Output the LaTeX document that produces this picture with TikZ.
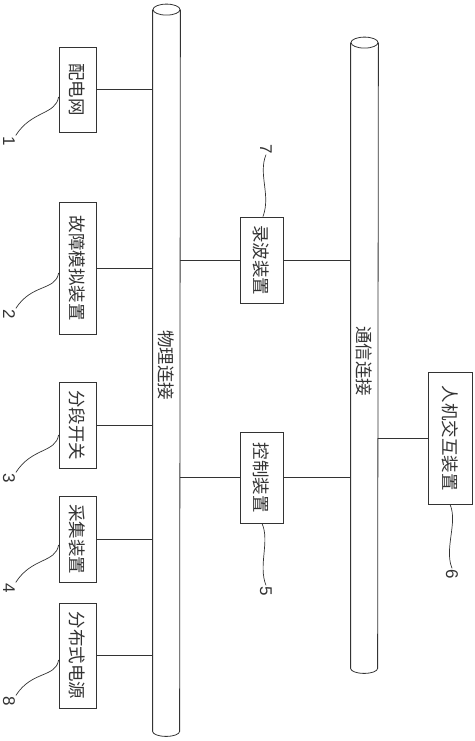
\documentclass[tikz,border=0pt]{standalone}
\usepackage{fontspec}
\usepackage{graphicx}
\usetikzlibrary{calc}
\newfontfamily\cjk{Noto Sans CJK SC}
\newfontfamily\numfont{Liberation Sans}
\definecolor{inkgray}{HTML}{333333}

\begin{document}
\begin{tikzpicture}[x=1pt,y=-1pt,line width=0.8pt,color=inkgray,
  unit/.style={draw,minimum width=37pt,minimum height=#1,inner sep=0pt,font=\cjk\fontsize{17.5}{20}\selectfont},
  bus/.style={minimum width=27pt,minimum height=#1,inner sep=0pt},
  busname/.style={font=\cjk\fontsize{17.5}{20}\selectfont},
  tag/.style={inner sep=0.5pt,font=\numfont\fontsize{17}{20}\selectfont},
  leadleft/.style={to path={.. controls ($(\tikztostart)+(-3,18)$) and ($(\tikztotarget)+(16,-25)$) .. (\tikztotarget)}},
  leadup/.style={to path={.. controls ($(\tikztostart)+(8,-22)$) and ($(\tikztotarget)+(-8,20)$) .. (\tikztotarget)}},
  leaddown/.style={to path={.. controls ($(\tikztostart)+(8,18)$) and ($(\tikztotarget)+(-8,-20)$) .. (\tikztotarget)}}]
  \useasboundingbox (0,0) rectangle (474,741);

  % buses
  \node[bus=721pt] (phys) at (166.5,370.5) {};
  \node[bus=625pt] (comm) at (364.5,355.5) {};
  \draw (phys.north west) -- (phys.south west) arc[start angle=180,end angle=360,x radius=13.5pt,y radius=5pt] -- (phys.north east);
  \draw (phys.north) ellipse[x radius=13.5pt,y radius=5.5pt];
  \draw (comm.north west) -- (comm.south west) arc[start angle=180,end angle=360,x radius=13.5pt,y radius=5pt] -- (comm.north east);
  \draw (comm.north) ellipse[x radius=13.5pt,y radius=5.5pt];
  \node[busname] (physname) at (166.5,365) {\rotatebox{-90}{物理连接}};
  \node[busname] (commname) at (364.5,361) {\rotatebox{-90}{通信连接}};

  % devices on the physical bus
  \node[unit=85pt] (grid) at (77.5,89.5) {\rotatebox{-90}{配电网}};
  \node[unit=132pt] (fault) at (77.5,268) {\rotatebox{-90}{故障模拟装置}};
  \node[unit=86pt] (switch) at (77.5,425) {\rotatebox{-90}{分段开关}};
  \node[unit=86pt] (collect) at (77.5,539) {\rotatebox{-90}{采集装置}};
  \node[unit=105pt] (dg) at (77.5,655.5) {\rotatebox{-90}{分布式电源}};
  \draw (grid.east) -- (grid.east -| phys.west);
  \draw (fault.east) -- (fault.east -| phys.west);
  \draw (switch.east) -- (switch.east -| phys.west);
  \draw (collect.east) -- (collect.east -| phys.west);
  \draw (dg.east) -- (dg.east -| phys.west);

  % devices between the buses
  \node[unit=86pt,minimum width=43pt] (wave) at (261.5,260) {\rotatebox{-90}{录波装置}};
  \node[unit=91pt,minimum width=43pt] (ctrl) at (261.5,477.5) {\rotatebox{-90}{控制装置}};
  \node[unit=132pt,minimum width=44pt] (hmi) at (450,438) {\rotatebox{-90}{人机交互装置}};
  \draw (wave.west -| phys.east) -- (wave.west);
  \draw (wave.east) -- (wave.east -| comm.west);
  \draw (ctrl.west -| phys.east) -- (ctrl.west);
  \draw (ctrl.east) -- (ctrl.east -| comm.west);
  \draw (hmi.west -| comm.east) -- (hmi.west);

  % reference numbers
  \node[tag] (tag1) at (9,141) {\rotatebox{-90}{1}};
  \node[tag] (tag2) at (9,314) {\rotatebox{-90}{2}};
  \node[tag] (tag3) at (9,478) {\rotatebox{-90}{3}};
  \node[tag] (tag4) at (9,588) {\rotatebox{-90}{4}};
  \node[tag] (tag8) at (9,701) {\rotatebox{-90}{8}};
  \node[tag] (tag7) at (266,149) {\rotatebox{-90}{7}};
  \node[tag] (tag5) at (266,591) {\rotatebox{-90}{5}};
  \node[tag] (tag6) at (452,574) {\rotatebox{-90}{6}};
  \draw[line width=0.7pt] ([yshift=-7.5pt]grid.west) to[leadleft] (tag1.north east);
  \draw[line width=0.7pt] ([yshift=-5pt]fault.west) to[leadleft] (tag2.north east);
  \draw[line width=0.7pt] ([yshift=-10pt]switch.west) to[leadleft] (tag3.north east);
  \draw[line width=0.7pt] ([yshift=-6pt]collect.west) to[leadleft] (tag4.north east);
  \draw[line width=0.7pt] ([yshift=-4.5pt]dg.west) to[leadleft] (tag8.north east);
  \draw[line width=0.7pt] ([xshift=1.5pt]wave.north) to[leadup] (tag7.south);
  \draw[line width=0.7pt] ([xshift=0.5pt]ctrl.south) to[leaddown] (tag5.north);
  \draw[line width=0.7pt] (hmi.south) to[leaddown] (tag6.north);
\end{tikzpicture}
\end{document}
